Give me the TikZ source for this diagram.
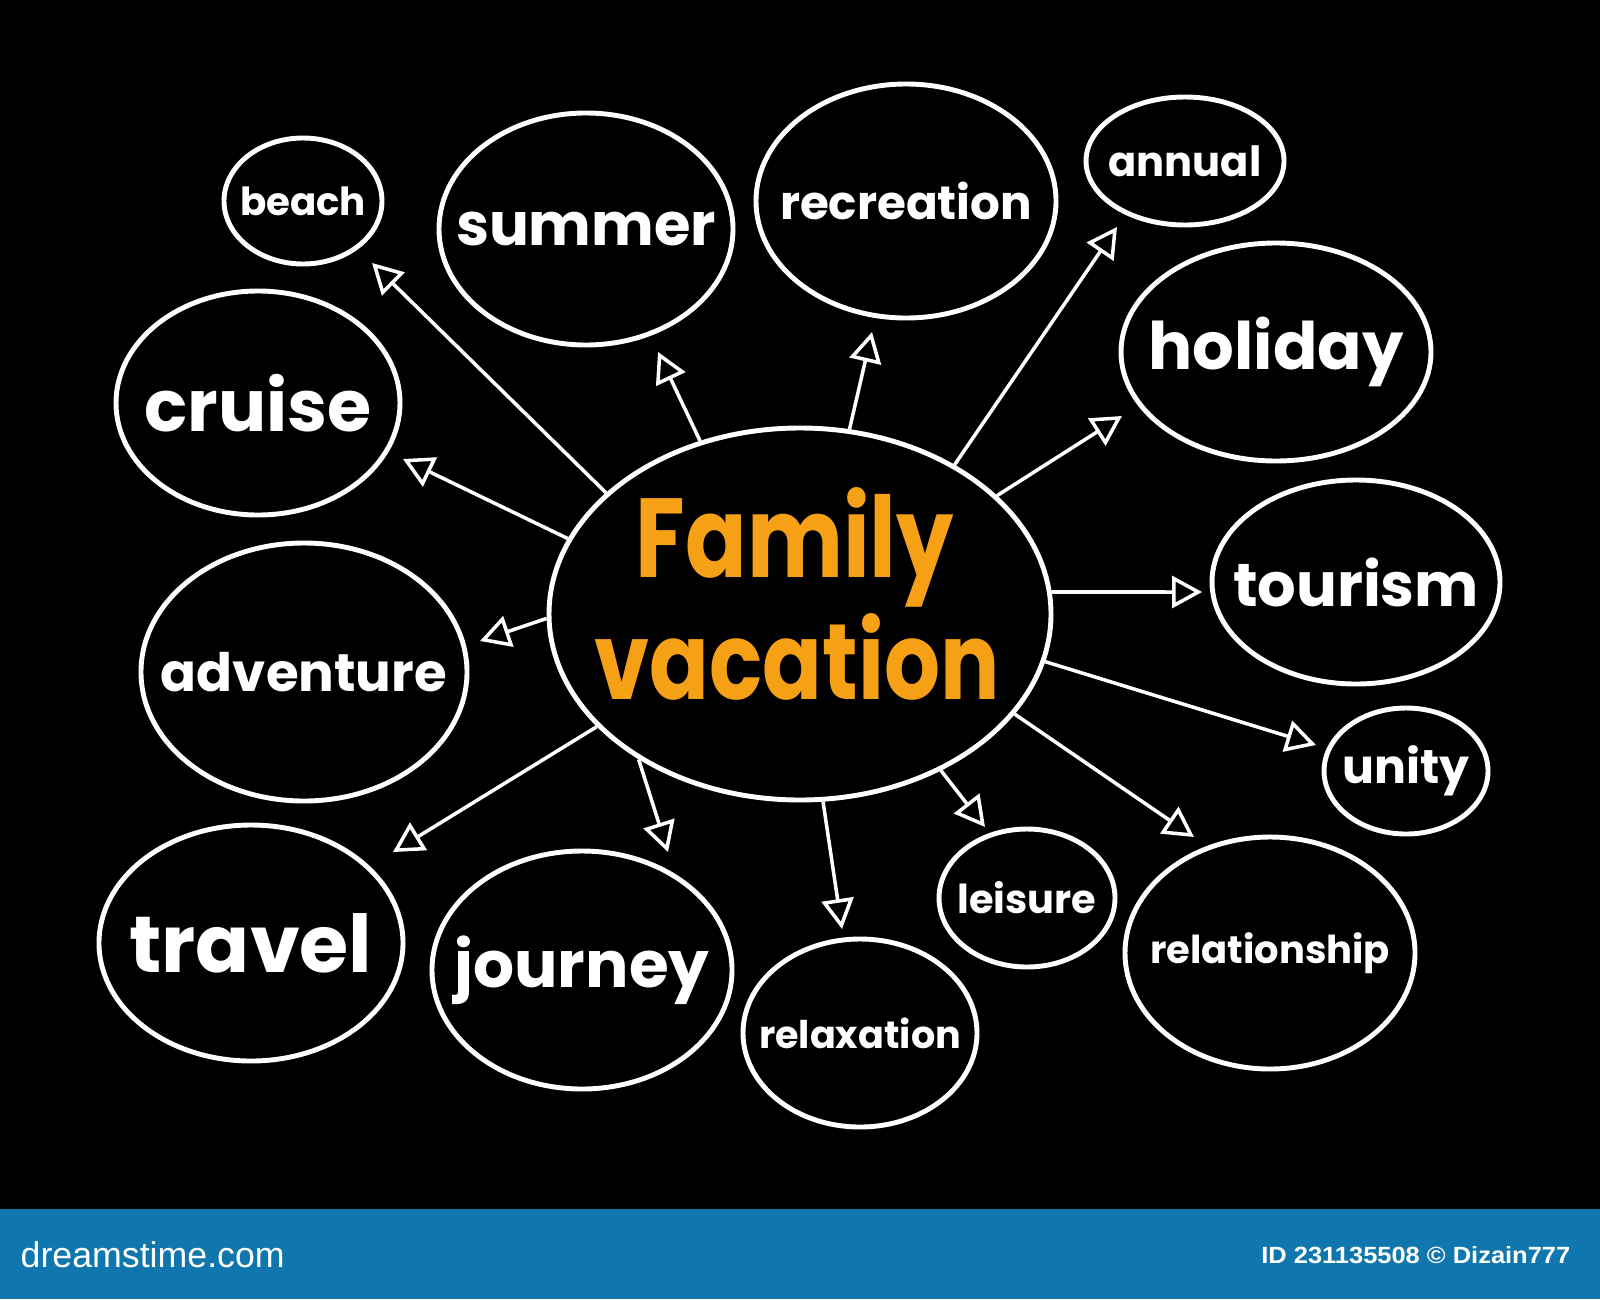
\documentclass[tikz,border=0pt]{standalone}
\usepackage{fontspec}
\setmainfont{Poppins}
\newfontfamily\footfont{Liberation Sans}
\usetikzlibrary{arrows.meta,shapes.geometric}

\definecolor{famorange}{RGB}{246,160,22}
\definecolor{footblue}{RGB}{15,119,173}

% scale a word to a given width
\newcommand{\fitword}[2]{\resizebox{#1}{!}{#2}}

\begin{document}
\begin{tikzpicture}[>={Triangle[open,length=3mm,width=3.2mm]},
    bubble/.style={draw=white, line width=1.4pt, ellipse, inner sep=0pt},
    word/.style={text=white, font=\bfseries, inner sep=0pt},
    title/.style={text=famorange, font=\bfseries, inner sep=0pt, anchor=base},
    arr/.style={->, draw=white, line width=1pt},
    foot/.style={text=white, font=\footfont, inner sep=0pt}]

        % Black board and the blue strip below it.
        \useasboundingbox (0,0) rectangle (16,-12.99);
        \fill[black] (0,0) rectangle (16,-12.09);
        \fill[footblue] (0,-12.09) rectangle (16,-12.99);

        % Central bubble.
        \node[bubble, minimum width=5.02cm, minimum height=3.72cm] (fam) at (8.00,-6.14) {};
        \node[title] (famTop) at (7.95,-5.77) {\resizebox{3.18cm}{0.90cm}{Family}};
        \node[title] (famBottom) at (7.97,-6.99) {\resizebox{4.05cm}{0.86cm}{vacation}};

        % Bubbles round it, clockwise from the top left.
        \node[bubble, minimum width=1.58cm, minimum height=1.26cm] (beach) at (3.03,-2.01) {};
        \node[bubble, minimum width=2.94cm, minimum height=2.32cm] (summer) at (5.86,-2.29) {};
        \node[bubble, minimum width=3.00cm, minimum height=2.34cm] (recreation) at (9.06,-2.01) {};
        \node[bubble, minimum width=1.98cm, minimum height=1.28cm] (annual) at (11.85,-1.61) {};
        \node[bubble, minimum width=3.10cm, minimum height=2.18cm] (holiday) at (12.76,-3.52) {};
        \node[bubble, minimum width=2.88cm, minimum height=2.04cm] (tourism) at (13.56,-5.82) {};
        \node[bubble, minimum width=1.64cm, minimum height=1.26cm] (unity) at (14.06,-7.71) {};
        \node[bubble, minimum width=2.90cm, minimum height=2.32cm] (relationship) at (12.70,-9.53) {};
        \node[bubble, minimum width=1.76cm, minimum height=1.38cm] (leisure) at (10.27,-8.98) {};
        \node[bubble, minimum width=2.34cm, minimum height=1.88cm] (relaxation) at (8.60,-10.33) {};
        \node[bubble, minimum width=3.00cm, minimum height=2.38cm] (journey) at (5.82,-9.70) {};
        \node[bubble, minimum width=3.04cm, minimum height=2.36cm] (travel) at (2.51,-9.43) {};
        \node[bubble, minimum width=3.26cm, minimum height=2.58cm] (adventure) at (3.04,-6.72) {};
        \node[bubble, minimum width=2.84cm, minimum height=2.24cm] (cruise) at (2.58,-4.03) {};

        % Words in the bubbles.
        \node[word] (beachTxt) at (beach) {\fitword{1.26cm}{beach}};
        \node[word] (summerTxt) at (summer) {\fitword{2.60cm}{summer}};
        \node[word] (recreationTxt) at (recreation) {\fitword{2.52cm}{recreation}};
        \node[word] (annualTxt) at (annual) {\fitword{1.53cm}{annual}};
        \node[word] (holidayTxt) at (holiday) {\fitword{2.55cm}{holiday}};
        \node[word] (tourismTxt) at (tourism) {\fitword{2.46cm}{tourism}};
        \node[word] (unityTxt) at (unity) {\fitword{1.27cm}{unity}};
        \node[word] (relationshipTxt) at (relationship) {\fitword{2.40cm}{relationship}};
        \node[word] (leisureTxt) at (leisure) {\fitword{1.39cm}{leisure}};
        \node[word] (relaxationTxt) at (relaxation) {\fitword{2.02cm}{relaxation}};
        \node[word] (journeyTxt) at (journey) {\fitword{2.55cm}{journey}};
        \node[word] (travelTxt) at (travel) {\fitword{2.43cm}{travel}};
        \node[word] (adventureTxt) at (adventure) {\fitword{2.86cm}{adventure}};
        \node[word] (cruiseTxt) at (cruise) {\fitword{2.27cm}{cruise}};

        % Arrow tips, they stop short of the bubbles.
        \coordinate (tipBeach) at (3.72,-2.63);
        \coordinate (tipSummer) at (6.58,-3.52);
        \coordinate (tipRecreation) at (8.72,-3.32);
        \coordinate (tipAnnual) at (11.17,-2.27);
        \coordinate (tipHoliday) at (11.22,-4.16);
        \coordinate (tipTourism) at (12.02,-5.92);
        \coordinate (tipUnity) at (13.16,-7.45);
        \coordinate (tipRelationship) at (11.94,-8.37);
        \coordinate (tipLeisure) at (9.85,-8.27);
        \coordinate (tipRelaxation) at (8.42,-9.29);
        \coordinate (tipJourney) at (6.68,-8.52);
        \coordinate (tipTravel) at (3.93,-8.52);
        \coordinate (tipAdventure) at (4.80,-6.41);
        \coordinate (tipCruise) at (4.03,-4.59);

        % Arrows out of the central bubble.
        \draw[arr] (fam.148) to (tipBeach);
        \draw[arr] (fam.120) to (tipSummer);
        \draw[arr] (fam.75) to (tipRecreation);
        \draw[arr] (fam.44) to (tipAnnual);
        \draw[arr] (fam.31) to (tipHoliday);
        \draw[arr] (fam.5) to (tipTourism);
        \draw[arr] (fam.349) to (tipUnity);
        \draw[arr] (fam.335) to (tipRelationship);
        \draw[arr] (fam.312) to (tipLeisure);
        \draw[arr] (fam.277) to (tipRelaxation);
        \draw[arr] (fam.222) to (tipJourney);
        \draw[arr] (fam.209) to (tipTravel);
        \draw[arr] (fam.181) to (tipAdventure);
        \draw[arr] (fam.162) to (tipCruise);

        % Texts on the blue strip.
        \node[foot, anchor=west] (site) at (0.20,-12.55) {\fitword{2.64cm}{dreamstime.com}};
        \node[foot, anchor=east] (imgId) at (15.71,-12.55)
            {\resizebox{3.09cm}{0.17cm}{\bfseries ID 231135508 © Dizain777}};
    \end{tikzpicture}
\end{document}
